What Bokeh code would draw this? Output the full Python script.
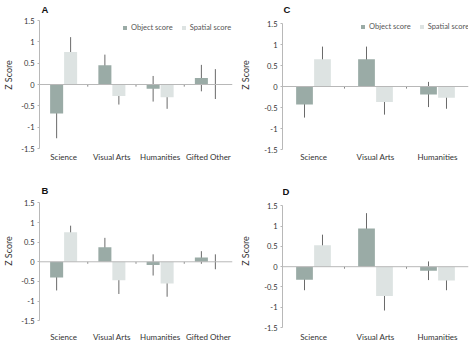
from bokeh.plotting import figure
from bokeh.layouts import row, column
from bokeh.models import (ColumnDataSource, FactorRange, Range1d, Span, Whisker,
                          FixedTicker, Legend, LegendItem, Label)
from bokeh.transform import dodge
from bokeh.embed import file_html
from bokeh.resources import INLINE

# ---------------- data ----------------
cats4 = ["Science", "Visual Arts", "Humanities", "Gifted Other"]
cats3 = ["Science", "Visual Arts", "Humanities"]

A_object = [-0.68, 0.45, -0.10, 0.15]
A_object_err = [0.58, 0.25, 0.30, 0.31]
A_spatial = [0.76, -0.27, -0.30, 0.01]
A_spatial_err = [0.35, 0.20, 0.27, 0.35]

B_object = [-0.40, 0.37, -0.08, 0.11]
B_object_err = [0.33, 0.24, 0.27, 0.16]
B_spatial = [0.75, -0.47, -0.55, 0.00]
B_spatial_err = [0.17, 0.35, 0.34, 0.19]

C_object = [-0.43, 0.65, -0.19]
C_object_err = [0.31, 0.30, 0.30]
C_spatial = [0.65, -0.37, -0.27]
C_spatial_err = [0.30, 0.30, 0.26]

D_object = [-0.32, 0.94, -0.10]
D_object_err = [0.26, 0.38, 0.23]
D_spatial = [0.53, -0.72, -0.34]
D_spatial_err = [0.26, 0.36, 0.24]

y_ticks = [-1.5, -1, -0.5, 0, 0.5, 1, 1.5]
y_tick_labels = ["-1.5", "-1", "-0.5", "0", "0.5", "1", "1.5"]
y_min, y_max = -1.5, 1.5

series_names = ["Object score", "Spatial score"]

# ---------------- style ----------------
FONT = "Lato"
OBJ_COLOR = "#9aaba6"
SPA_COLOR = "#dde3e2"
AXIS_COLOR = "#b8b8b8"
ERR_COLOR = "#6a6a6a"
TEXT_COLOR = "#333333"
W, H = 237, 172


def panel(letter, cats, obj, obj_err, spa, spa_err, lr, ypix, bottom, legend_loc,
          letter_off, ylabel_standoff):
    # lr: left/right borders; ypix: pixel rows of the 1.5 and -1.5 ticks
    left, right = lr
    p_top, p_bot = ypix
    ppu = (p_bot - p_top) / (y_max - y_min)
    frame_h = H - bottom
    y_end = y_max + p_top / ppu
    y_start = y_min - (frame_h - p_bot) / ppu
    p = figure(width=W, height=H, x_range=FactorRange(*cats),
               y_range=Range1d(y_start, y_end), output_backend="svg",
               toolbar_location=None, min_border_left=left, min_border_right=right,
               min_border_top=0, min_border_bottom=bottom)
    p.x_range.range_padding = 0
    p.outline_line_color = None
    p.grid.visible = False

    src = ColumnDataSource(dict(
        cat=cats, obj=obj, spa=spa,
        obj_lo=[v - e for v, e in zip(obj, obj_err)],
        obj_hi=[v + e for v, e in zip(obj, obj_err)],
        spa_lo=[v - e for v, e in zip(spa, spa_err)],
        spa_hi=[v + e for v, e in zip(spa, spa_err)],
    ))
    r1 = p.vbar(x=dodge("cat", -0.145, range=p.x_range), top="obj", bottom=0,
                width=0.27, source=src, fill_color=OBJ_COLOR, line_color=None)
    r2 = p.vbar(x=dodge("cat", 0.145, range=p.x_range), top="spa", bottom=0,
                width=0.27, source=src, fill_color=SPA_COLOR, line_color=None)

    p.add_layout(Span(location=0, dimension="width", line_color=AXIS_COLOR, line_width=1))

    # little tick marks between categories on the zero line
    bsrc = ColumnDataSource(dict(cat=cats[:-1], y0=[0] * (len(cats) - 1),
                                 y1=[-0.05] * (len(cats) - 1)))
    p.segment(x0=dodge("cat", 0.5, range=p.x_range), x1=dodge("cat", 0.5, range=p.x_range),
              y0="y0", y1="y1", source=bsrc, line_color="#888888", line_width=1)

    for xoff, lo, hi in [(-0.145, "obj_lo", "obj_hi"), (0.145, "spa_lo", "spa_hi")]:
        w = Whisker(base=dodge("cat", xoff, range=p.x_range), lower=lo, upper=hi,
                    source=src, line_color=ERR_COLOR, line_width=1,
                    upper_head=None, lower_head=None)
        p.add_layout(w)

    # y axis
    ya = p.yaxis[0]
    ya.ticker = FixedTicker(ticks=y_ticks)
    ya.bounds = (y_min, y_max)
    ya.major_label_overrides = {t: l for t, l in zip(y_ticks, y_tick_labels)}
    ya.axis_label = "Z Score"
    ya.axis_label_text_font = FONT
    ya.axis_label_text_font_style = "normal"
    ya.axis_label_text_font_size = "9px"
    ya.axis_label_text_color = TEXT_COLOR
    ya.axis_label_standoff = ylabel_standoff
    ya.major_label_text_font = FONT
    ya.major_label_text_font_size = "7.5px"
    ya.major_label_text_color = TEXT_COLOR
    ya.major_label_standoff = 3
    ya.axis_line_color = AXIS_COLOR
    ya.major_tick_line_color = AXIS_COLOR
    ya.major_tick_out = 2
    ya.major_tick_in = 0
    ya.minor_tick_line_color = None

    # x axis
    xa = p.xaxis[0]
    xa.axis_line_color = None
    xa.major_tick_line_color = None
    xa.major_tick_out = 0
    xa.major_tick_in = 0
    xa.major_label_text_font = FONT
    xa.major_label_text_font_size = "8px"
    xa.major_label_text_color = TEXT_COLOR
    xa.major_label_standoff = 2

    # panel letter
    p.add_layout(Label(x=0, y=y_max, x_offset=letter_off[0], y_offset=letter_off[1],
                       text=letter, text_font="Liberation Sans", text_font_size="9.5px",
                       text_font_style="bold", text_color="#111111",
                       text_baseline="alphabetic", text_align="left"))

    if legend_loc is not None:
        lg = Legend(items=[LegendItem(label=series_names[0], renderers=[r1]),
                           LegendItem(label=series_names[1], renderers=[r2])],
                    orientation="horizontal", location=legend_loc,
                    label_text_font=FONT, label_text_font_size="7.5px",
                    label_text_color="#555555", glyph_width=5, glyph_height=5,
                    label_standoff=4, label_width=37, spacing=8, padding=0, margin=0,
                    border_line_color=None, background_fill_alpha=0)
        p.add_layout(lg)
    return p


pA = panel("A", cats4, A_object, A_object_err, A_spatial, A_spatial_err,
           (37, 5), (20, 148), 23, (83, 117), (2, 11), 4)
pC = panel("C", cats3, C_object, C_object_err, C_spatial, C_spatial_err,
           (45, 6), (23, 149), 23, (78, 118), (1, 14), 10)
pB = panel("B", cats4, B_object, B_object_err, B_spatial, B_spatial_err,
           (37, 5), (31, 151), 12, None, (2, 12), 4)
pD = panel("D", cats3, D_object, D_object_err, D_spatial, D_spatial_err,
           (45, 5), (34, 158), 12, None, (0, 14), 10)

layout = row(column(pA, pB, spacing=0), column(pC, pD, spacing=0), spacing=0)

open("out.html", "w").write(file_html(layout, INLINE))
